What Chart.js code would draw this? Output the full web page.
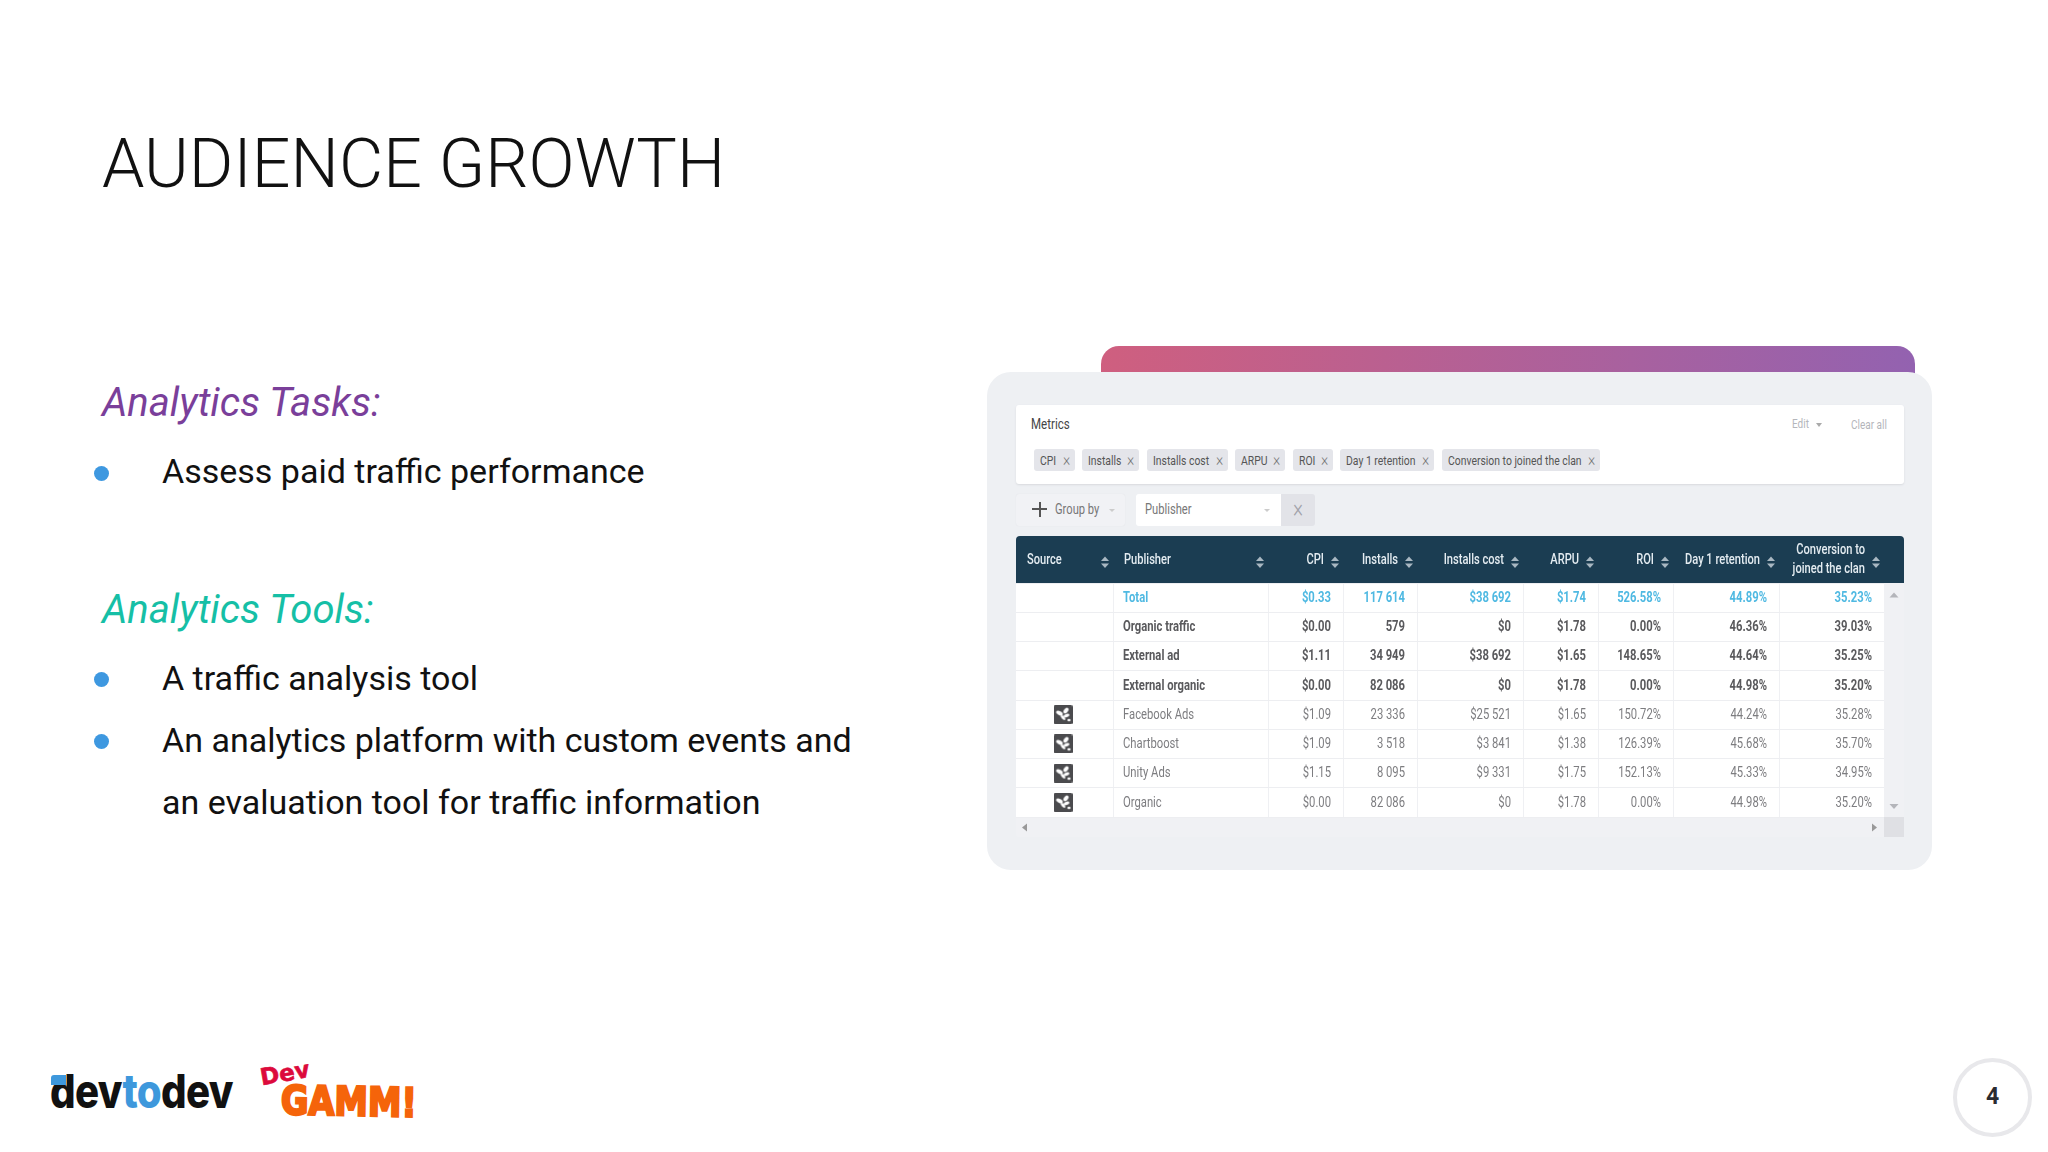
<!DOCTYPE html>
<html><head><meta charset="utf-8">
<script src="https://cdn.jsdelivr.net/npm/chart.js@4/dist/chart.umd.min.js"></script>
<style>
html,body{margin:0;padding:0;background:#fff;width:2048px;height:1152px;overflow:hidden;font-family:Roboto,sans-serif}
body{filter:blur(.35px)}
.a{position:absolute;white-space:nowrap}
.t{position:absolute;white-space:nowrap;transform:translateY(-50%) scaleX(.77);transform-origin:left center;font-size:14.5px;line-height:20px}
.box{position:absolute;box-sizing:border-box}
.chip{position:absolute;top:449px;height:22px;background:#e4e5ea;border-radius:3px}
.x{font-weight:300}
#tableChart{position:absolute;left:1016px;top:536px;width:888px;height:301px}
</style></head><body>
<div class="a" id="title" style="left:102px;top:121px;font:300 68px/86px Roboto;color:#111;letter-spacing:.1px">AUDIENCE GROWTH</div>
<div class="a" style="left:102px;top:379px;font:italic 400 40px/48px Roboto;color:#7a3f9a">Analytics Tasks:</div>
<div class="a" style="left:102px;top:586px;font:italic 400 40px/48px Roboto;color:#16bfa6">Analytics Tools:</div>
<div class="a" style="left:162px;top:447px;font:400 34px/48px Roboto;color:#111">Assess paid traffic performance</div>
<div class="a" style="left:162px;top:654px;font:400 34px/48px Roboto;color:#111">A traffic analysis tool</div>
<div class="a" style="left:162px;top:716px;font:400 34px/48px Roboto;color:#111">An analytics platform with custom events and</div>
<div class="a" style="left:162px;top:778px;font:400 34px/48px Roboto;color:#111">an evaluation tool for traffic information</div>
<div class="box" style="left:94px;top:466px;width:15px;height:15px;border-radius:50%;background:#3e98e0"></div>
<div class="box" style="left:94px;top:672px;width:15px;height:15px;border-radius:50%;background:#3e98e0"></div>
<div class="box" style="left:94px;top:734px;width:15px;height:15px;border-radius:50%;background:#3e98e0"></div>

<div class="box" style="left:1101px;top:346px;width:814px;height:30px;border-radius:18px 18px 0 0;background:linear-gradient(90deg,#cf5f7f,#9362b0)"></div>
<div class="box" style="left:987px;top:372px;width:945px;height:498px;border-radius:24px;background:#eef0f3"></div>
<div class="box" style="left:1016px;top:405px;width:888px;height:79px;border-radius:3px;background:#fff;box-shadow:0 1px 2px #d8dade"></div>
<div class="t" style="left:1031px;top:424px;color:#444;font-size:15px">Metrics</div>
<div class="t" style="left:1792px;top:424px;color:#b4b6bb;font-size:13px">Edit</div>
<div class="box" style="left:1816px;top:423px;border:3.5px solid transparent;border-top:4px solid #aaa;border-bottom:0"></div>
<div class="t" style="left:1851px;top:425px;color:#b4b6bb;font-size:13px">Clear all</div>
<div id="chips"></div>

<div class="box" style="left:1016px;top:494px;width:109px;height:32px;border-radius:3px;background:#f1f2f5;box-shadow:0 0 1px #dcdde1"></div>
<div class="a" style="left:1032px;top:508px;width:15px;height:2px;background:#555"></div>
<div class="a" style="left:1039px;top:502px;width:2px;height:15px;background:#555"></div>
<div class="t" style="left:1055px;top:510px;color:#777">Group by</div>
<div class="box" style="left:1109px;top:509px;border:3px solid transparent;border-top:3px solid #ccc;border-bottom:0"></div>
<div class="box" style="left:1136px;top:494px;width:145px;height:32px;background:#fff;border-radius:3px 0 0 3px"></div>
<div class="box" style="left:1281px;top:494px;width:34px;height:32px;background:#e2e3e8;border-radius:0 3px 3px 0"></div>
<div class="t" style="left:1145px;top:510px;color:#777">Publisher</div>
<div class="box" style="left:1264px;top:509px;border:3.5px solid transparent;border-top:3.5px solid #ccc;border-bottom:0"></div>
<div class="t x" style="left:1293px;top:508.5px;color:#a0a1a8;font-size:25px">×</div>

<canvas id="tableChart" width="888" height="301"></canvas>

<div class="a" style="left:50px;top:1062px;font:800 47px/58px Inter;color:#111;letter-spacing:-.8px;transform-origin:left center;transform:scaleX(.855)">dev<span style="color:#3e98dc">to</span>dev</div>
<div class="box" style="left:51px;top:1075px;width:15px;height:10px;background:#3e98dc;border-radius:3px 0 0 0"></div>
<div class="a" style="left:260px;top:1057px;font:700 23px/32px 'DejaVu Sans';color:#dc0a3c;-webkit-text-stroke:.6px #dc0a3c;transform:rotate(-10deg)">Dev</div>
<div class="a" id="gamm" style="left:281px;top:1078px;font:700 40px/44px 'DejaVu Sans';color:#f5640a;-webkit-text-stroke:2.5px #f5640a;transform-origin:left center;transform:scaleX(.84) rotate(1deg)">GAMM!</div>

<div class="box" style="left:1953px;top:1058px;width:79px;height:79px;border-radius:50%;border:4px solid #e8e8eb;background:#fff"></div>
<div class="a" style="left:1953px;top:1082px;width:79px;text-align:center;font:700 23px/30px Roboto;color:#2b2b30">4</div>

<script>
// ---- table data -------------------------------------------------------
const publishers = ['Total','Organic traffic','External ad','External organic','Facebook Ads','Chartboost','Unity Ads','Organic'];
const sourceIconRows = ['Facebook Ads','Chartboost','Unity Ads','Organic'];
const metricChips = ['CPI','Installs','Installs cost','ARPU','ROI','Day 1 retention','Conversion to joined the clan'];
const headerLabels = ['CPI','Installs','Installs cost','ARPU','ROI','Day 1 retention'];
const cpi = [0.33,0.00,1.11,0.00,1.09,1.09,1.15,0.00];
const installs = [117614,579,34949,82086,23336,3518,8095,82086];
const installsCost = [38692,0,38692,0,25521,3841,9331,0];
const arpu = [1.74,1.78,1.65,1.78,1.65,1.38,1.75,1.78];
const roi = [526.58,0.00,148.65,0.00,150.72,126.39,152.13,0.00];
const day1Retention = [44.89,46.36,44.64,44.98,44.24,45.68,45.33,44.98];
const conversion = [35.23,39.03,35.25,35.20,35.28,35.70,34.95,35.20];

// ---- layout (x-scale units are table pixels) ---------------------------
const columnEdges = [97,252,327,401,507,582,657,763,868];
const chipBoxes = [[1034,41],[1082,57],[1147,81],[1235,50],[1293,40],[1340,94],[1442,158]];

const thousands = v => String(v).replace(/\B(?=(\d{3})+$)/g,' ');
const money2 = v => '$'+v.toFixed(2);
const money0 = v => '$'+thousands(v);
const pct = v => v.toFixed(2)+'%';

// chips
const chipHost = document.getElementById('chips');
metricChips.forEach((name,i)=>{
  const [x,w]=chipBoxes[i];
  chipHost.insertAdjacentHTML('beforeend',
   `<div class="chip" style="left:${x}px;width:${w}px"></div>`+
   `<div class="t" style="left:${x+6}px;top:460px;color:#555;font-size:13.5px">${name}</div>`+
   `<div class="t x" style="left:${x+w-12}px;top:459.5px;color:#777;font-size:18px">×</div>`);
});

// source icon, used as the library's point style
const icon = document.createElement('canvas'); icon.width=19; icon.height=19;
(()=>{const c=icon.getContext('2d');
  c.fillStyle='#4b4b4e';c.beginPath();c.roundRect(0,0,19,19,1.5);c.fill();
  c.fillStyle='#fff';
  const leaf=(x,y,rx,ry,a)=>{c.beginPath();c.ellipse(x,y,rx,ry,a,0,7);c.fill();};
  leaf(12.5,5.5,3.2,2,-.9);leaf(6,8,3.6,2,.5);leaf(13,10.5,3,1.7,-.3);leaf(9.5,12.5,3,1.4,.8);leaf(15.5,15,1.6,1.2,0);
})();

const metricColumns = [
  {label:'CPI',values:cpi,fmt:money2},
  {label:'Installs',values:installs,fmt:thousands},
  {label:'Installs cost',values:installsCost,fmt:money0},
  {label:'ARPU',values:arpu,fmt:money2},
  {label:'ROI',values:roi,fmt:pct},
  {label:'Day 1 retention',values:day1Retention,fmt:pct},
  {label:'Conversion',values:conversion,fmt:pct},
];
const COND=.75;
function drawText(ctx,text,x,y,align,font,color,cond=COND){
  ctx.save();ctx.translate(x,y);ctx.scale(cond,1);
  ctx.font=font;ctx.fillStyle=color;ctx.textAlign=align;ctx.textBaseline='middle';
  ctx.fillText(text,0,0);ctx.restore();
}
function sortArrows(ctx,x,y,color){
  ctx.fillStyle=color;
  ctx.beginPath();ctx.moveTo(x-4,y-1);ctx.lineTo(x+4,y-1);ctx.lineTo(x,y-5.5);ctx.fill();
  ctx.beginPath();ctx.moveTo(x-4,y+1.5);ctx.lineTo(x+4,y+1.5);ctx.lineTo(x,y+6);ctx.fill();
}
const rowStyle = i => i===0 ? ['700 15px Roboto','#4fb9e2'] : i<4 ? ['700 15px Roboto','#59595c'] : ['400 15px Roboto','#7d7d80'];

const tablePlugin={
  id:'tablePlugin',
  beforeDraw(ch){
    const {ctx,chartArea:a,width:W,height:H}=ch;
    ctx.save();
    ctx.fillStyle='#f0f1f4';ctx.beginPath();ctx.roundRect(0,a.top,W,H-a.top,[0,0,3,3]);ctx.fill();
    ctx.fillStyle='#dfe0e4';ctx.fillRect(a.right,a.bottom,W-a.right,H-a.bottom);
    ctx.fillStyle='#fff';ctx.fillRect(a.left,a.top,a.right-a.left,a.bottom-a.top);
    ctx.fillStyle='#1b3d52';ctx.beginPath();ctx.roundRect(0,0,W,a.top,[4,4,0,0]);ctx.fill();
    ctx.restore();
  },
  afterDatasetsDraw(ch){
    const {ctx,chartArea:a,scales:{x},width:W}=ch;
    const hc=a.top/2+.5, hcol='#e4ecf1', hf='500 15px Roboto', ac='#a9b8c2', hk=.74;
    drawText(ctx,'Source',11,hc,'left',hf,hcol,hk);
    drawText(ctx,'Publisher',108,hc,'left',hf,hcol,hk);
    sortArrows(ctx,x.getPixelForValue(columnEdges[0])-8,hc+2,ac);
    sortArrows(ctx,x.getPixelForValue(columnEdges[1])-8,hc+2,ac);
    headerLabels.forEach((t,i)=>{
      const px=x.getPixelForValue(columnEdges[i+2]);
      drawText(ctx,t,px-19,hc,'right',hf,hcol,hk);
      sortArrows(ctx,px-8,hc+2,ac);
    });
    const cpx=x.getPixelForValue(columnEdges[8]);
    drawText(ctx,'Conversion to',cpx-19,14.5,'right',hf,hcol,hk);
    drawText(ctx,'joined the clan',cpx-19,33.5,'right',hf,hcol,hk);
    sortArrows(ctx,cpx-8,hc+2,ac);
    ch.data.datasets.forEach((ds,di)=>{
      if(!ds.cell) return;
      ch.getDatasetMeta(di).data.forEach((el,i)=>{
        const [f,c]=rowStyle(i);
        drawText(ctx,ds.cell(i),el.x,el.y+.5,ds.align,f,c);
      });
    });
    const tri=(p)=>{ctx.beginPath();ctx.moveTo(...p[0]);ctx.lineTo(...p[1]);ctx.lineTo(...p[2]);ctx.fill();};
    ctx.fillStyle='#b4b5ba';
    tri([[W-14.5,a.top+14.5],[W-5.5,a.top+14.5],[W-10,a.top+9.5]]);
    tri([[W-14.5,a.bottom-13],[W-5.5,a.bottom-13],[W-10,a.bottom-8]]);
    ctx.fillStyle='#999';
    tri([[11,a.bottom+6.5],[11,a.bottom+14.5],[6,a.bottom+10.5]]);
    tri([[a.right-12,a.bottom+6.5],[a.right-12,a.bottom+14.5],[a.right-7,a.bottom+10.5]]);
  }
};

new Chart(document.getElementById('tableChart'),{
  type:'scatter',
  data:{datasets:[
    {label:'Source',data:sourceIconRows.map(p=>({x:47,y:p})),pointStyle:icon,pointRadius:9.5},
    {label:'Publisher',data:publishers.map(p=>({x:columnEdges[0]+10,y:p})),pointRadius:0,align:'left',cell:i=>publishers[i]},
    ...metricColumns.map((m,ci)=>({
      label:m.label,
      data:m.values.map((v,i)=>({x:columnEdges[ci+2]-12,y:publishers[i]})),
      pointRadius:0,align:'right',cell:i=>m.fmt(m.values[i])
    }))
  ]},
  options:{
    responsive:false,animation:false,devicePixelRatio:1,
    layout:{autoPadding:false,padding:{top:47,bottom:20,right:20,left:0}},
    plugins:{legend:{display:false},tooltip:{enabled:false}},
    scales:{
      x:{type:'linear',min:0,max:868,
        afterBuildTicks(s){s.ticks=columnEdges.slice(0,8).map(v=>({value:v}));},
        afterFit(s){s.height=0;},
        ticks:{display:false},border:{display:false},
        grid:{color:'#eff0f3',lineWidth:1,drawTicks:false}},
      y:{type:'category',labels:publishers,offset:true,
        afterFit(s){s.width=0;},
        ticks:{display:false},border:{display:false},
        grid:{color:'#edeef1',lineWidth:1,drawTicks:false,offset:true}}
    }
  },
  plugins:[tablePlugin]
});
</script>
</body></html>
